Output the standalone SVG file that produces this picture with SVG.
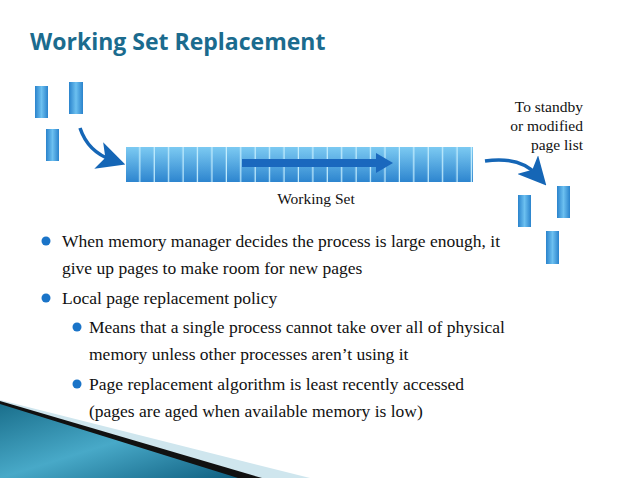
<svg xmlns="http://www.w3.org/2000/svg" width="638" height="478" viewBox="0 0 638 478">
<style>
.t{font-family:"Liberation Serif","DejaVu Serif",serif;font-size:17.5px;fill:#111}
.s{font-family:"Liberation Serif","DejaVu Serif",serif;font-size:15.5px;fill:#111}
.b{fill:#1a74c8}
</style>
<defs>
<linearGradient id="pg" x1="0" y1="0" x2="1" y2="0">
<stop offset="0" stop-color="#2a83cc"/><stop offset="0.5" stop-color="#6cc0f0"/><stop offset="1" stop-color="#2a83cc"/>
</linearGradient>
<linearGradient id="cg" x1="0" y1="0" x2="0" y2="1">
<stop offset="0" stop-color="#7ccaf2"/><stop offset="1" stop-color="#2d85cf"/>
</linearGradient>
<linearGradient id="tg" x1="0" y1="0" x2="1" y2="1">
<stop offset="0" stop-color="#1a6f8c"/><stop offset="0.5" stop-color="#48a9c8"/><stop offset="1" stop-color="#0f5f80"/>
</linearGradient>
<pattern id="cells" x="126" y="147" width="14.42" height="35" patternUnits="userSpaceOnUse">
<rect width="14.42" height="35" fill="url(#cg)"/><rect x="13.2" width="1.2" height="35" fill="#c8f0ff"/>
</pattern>
<marker id="ah" markerWidth="8" markerHeight="8" refX="4" refY="4" orient="auto" markerUnits="strokeWidth"><path d="M0,0 L8,4 L0,8 L2,4 z" fill="#1566b6"/></marker>
</defs>
<text x="30" y="50" style="font-family:'Open Sans','Liberation Sans',sans-serif;font-weight:bold;font-size:23px;fill:#1b6b8e">Working Set Replacement</text>
<g id="pages-left">
<rect x="35" y="86" width="13" height="32" fill="url(#pg)"/>
<rect x="69" y="82" width="14" height="32" fill="url(#pg)"/>
<rect x="46" y="129" width="13" height="32" fill="url(#pg)"/>
</g>
<g id="working-set">
<rect x="126" y="147" width="347" height="35" fill="url(#cells)"/>
<text x="316" y="204" class="s" text-anchor="middle">Working Set</text>
</g>
<g id="pages-right">
<rect x="518" y="195" width="13" height="32" fill="url(#pg)"/>
<rect x="557" y="186" width="13" height="32" fill="url(#pg)"/>
<rect x="546" y="231" width="13" height="33" fill="url(#pg)"/>
</g>
<g id="label-right">
<text class="s" text-anchor="end"><tspan x="583" y="112">To standby</tspan><tspan x="583" y="131">or modified</tspan><tspan x="583" y="150">page list</tspan></text>
</g>
<g id="connectors" fill="none" stroke="#1566b6" stroke-width="3.5">
<path d="M80,128 Q88,152 112,160" marker-end="url(#ah)"/>
<rect x="242" y="159" width="136" height="8" fill="#1a68be" stroke="none"/>
<polygon points="376,153 393,163 376,173" fill="#1a68be" stroke="none"/>
<path d="M485,161 Q520,156 537,175" marker-end="url(#ah)"/>
</g>
<g id="bullets">
<circle cx="46" cy="241" r="4.5" class="b"/>
<text class="t"><tspan x="62" y="247">When memory manager decides the process is large enough, it</tspan><tspan x="62" y="274">give up pages to make room for new pages</tspan></text>
<circle cx="46" cy="298" r="4.5" class="b"/>
<text x="62" y="304" class="t">Local page replacement policy</text>
<circle cx="77" cy="327" r="4.5" class="b"/>
<text class="t"><tspan x="89" y="333">Means that a single process cannot take over all of physical</tspan><tspan x="89" y="360">memory unless other processes aren’t using it</tspan></text>
<circle cx="77" cy="384" r="4.5" class="b"/>
<text class="t"><tspan x="89" y="390">Page replacement algorithm is least recently accessed</tspan><tspan x="89" y="417">(pages are aged when available memory is low)</tspan></text>
</g>
<g id="decoration">
<polygon points="0,400 310,478 0,478" fill="#cfe6ee"/>
<polygon points="0,401 262,478 0,478" fill="#111"/>
<polygon points="0,404 238,478 0,478" fill="url(#tg)"/>
</g>
</svg>
